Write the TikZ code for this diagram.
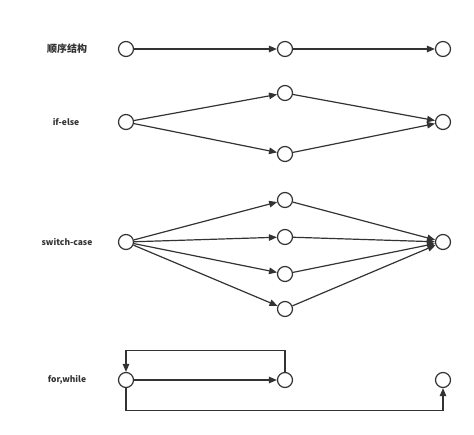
\documentclass[tikz,border=0pt]{standalone}
\usepackage{fontspec}
\setmainfont{Noto Sans CJK SC}
\usepackage{xcolor}
\usetikzlibrary{arrows.meta}
\definecolor{ink}{HTML}{333333}

\begin{document}
\begin{tikzpicture}[x=1pt, y=-1pt,
  font=\bfseries\fontsize{8.5}{10}\selectfont,
  pt/.style={circle, draw=ink, line width=1.2pt, fill=white, minimum size=15pt, inner sep=0pt},
  lbl/.style={text=ink, anchor=center},
  arr/.style={-{Triangle[length=8pt, width=6.5pt]}, ink, line width=1.2pt}]
\useasboundingbox (0,0) rectangle (474,434);
% sequence
\node[lbl, font=\bfseries\fontsize{10}{11}\selectfont] (t1) at (67,49) {顺序结构};
\node[pt] (s1) at (126,49) {};
\node[pt] (s2) at (285,49) {};
\node[pt] (s3) at (443,49) {};
\draw[arr] (s1) -- (s2);
\draw[arr] (s2) -- (s3);
% if-else
\node[lbl] (t2) at (66,122) {if-else};
\node[pt] (i0) at (126,122) {};
\node[pt] (i1) at (285,93) {};
\node[pt] (i2) at (285,154) {};
\node[pt] (i3) at (443,122) {};
\foreach \k in {1,2} {
  \draw[arr] (i0) -- (i\k);
  \draw[arr] (i\k) -- (i3);
}
% switch-case
\node[lbl] (t3) at (67,242) {switch-case};
\node[pt] (c0) at (126,242) {};
\foreach \k/\y in {1/200,2/237,3/274,4/309}
  \node[pt] (c\k) at (285,\y) {};
\node[pt] (c5) at (443,242) {};
\foreach \k in {1,...,4} {
  \draw[arr] (c0) -- (c\k);
  \draw[arr] (c\k) -- (c5);
}
% loop
\node[lbl] (t4) at (67,380) {for,while};
\node[pt] (f1) at (126,380) {};
\node[pt] (f2) at (285,380) {};
\node[pt] (f3) at (443,380) {};
\draw[arr] (f1) -- (f2);
\draw[arr] (f2.north) -- ++(0,-21.5) -| (f1.north);
\draw[arr] (f1.south) -- ++(0,22.5) -| (f3.south);
\end{tikzpicture}
\end{document}
